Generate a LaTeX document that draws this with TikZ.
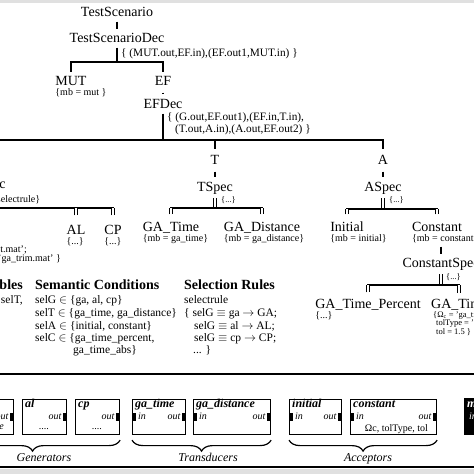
\documentclass[tikz,border=0pt]{standalone}
\usepackage{fontspec}
\setmainfont{Liberation Serif}
\usetikzlibrary{decorations.pathreplacing,calc}
\newcommand\myfs[1]{\fontsize{#1}{#1}\selectfont}
\newcommand\cbx[4]{%
  \node[cbox, minimum width={#3-#2}, minimum height=35, anchor=north west] (#1) at (#2,399) {};
  \node[btitle] (#1t) at ([xshift=3pt,yshift=-8.5pt]#1.north west) {#4};}
\newcommand\portout[1]{%
  \fill ([xshift=-0.5pt,yshift=-13.5pt]#1.north east) rectangle ([xshift=-4pt,yshift=-22pt]#1.north east);
  \node[port, anchor=base east] (#1o) at ([xshift=-5.5pt,yshift=-20pt]#1.north east) {out};}
\newcommand\portin[1]{%
  \fill ([xshift=0.5pt,yshift=-13.5pt]#1.north west) rectangle ([xshift=4pt,yshift=-22pt]#1.north west);
  \node[port, anchor=base west] (#1i) at ([xshift=6pt,yshift=-20pt]#1.north west) {in};}
\begin{document}
\begin{tikzpicture}[x=1pt,y=-1pt,
  nm/.style={font=\myfs{14}, inner sep=2.5pt, text height=10pt, text depth=3pt, anchor=base},
  mbl/.style={font=\myfs{10}, inner sep=0pt, anchor=base west},
  sml/.style={font=\myfs{8.5}, inner sep=0pt, anchor=base west},
  elab/.style={font=\myfs{11.3}, inner sep=0pt, anchor=base west},
  dotl/.style={font=\myfs{8.5}, inner sep=0pt, anchor=base west},
  conn/.style={line width=1.3pt},
  bar/.style={line width=1.3pt, line cap=rect},
  dbl/.style={double, double distance=1.6pt, line width=0.9pt},
  ttl/.style={font=\bfseries\myfs{14}, inner sep=0pt, anchor=base west},
  txt/.style={font=\myfs{11.5}, inner sep=0pt, anchor=base west},
  cbox/.style={draw, line width=1.1pt, inner sep=0pt},
  btitle/.style={font=\bfseries\itshape\myfs{12}, inner sep=0pt, anchor=base west},
  port/.style={font=\itshape\myfs{10}, inner sep=0pt},
  plain/.style={font=\myfs{10}, inner sep=0pt},
  brc/.style={decorate, decoration={brace, mirror, amplitude=11pt}, line width=1.2pt},
  brl/.style={font=\itshape\myfs{12}, inner sep=0pt, anchor=base}]
\useasboundingbox (0,0) rectangle (474,474);
\clip (0,0) rectangle (474,474);
\fill[white] (0,0) rectangle (474,474);
\fill[black!12] (0,0) rectangle (474,2.5);
\fill[black!12] (0,469) rectangle (474,474);

% ---------- tree ----------
\node[nm] (ts) at (117,16) {TestScenario};
\node[nm] (tsd) at (117,42) {TestScenarioDec};
\node[elab] (tsdl) at (121,56) {\{ (MUT.out,EF.in),(EF.out1,MUT.in) \}};
\node[nm] (mut) at (71,85) {MUT};
\node[mbl] (mutmb) at ([xshift=2.5pt,yshift=-10pt]mut.base west) {\{mb = mut \}};
\node[nm] (ef) at (163,85) {EF};
\node[nm] (efd) at (163,108) {EFDec};
\node[elab] (efdl1) at (167,120) {\{ (G.out,EF.out1),(EF.in,T.in),};
\node[elab] (efdl2) at (175,132) {(T.out,A.in),(A.out,EF.out2) \}};

\node[nm] (g) at (-13,164) {G};
\node[nm] (gsp) at (-13,188) {GSpec};
\node[mbl] (gspl) at (-8,202) {\{selectrule\}};
\node[nm] (t) at (215,164) {T};
\node[nm] (tsp) at (215,191) {TSpec};
\node[dotl] (tspl) at (221,202) {\{...\}};
\node[nm] (a) at (383,164) {A};
\node[nm] (asp) at (383,191) {ASpec};
\node[dotl] (aspl) at (389,202) {\{...\}};

\node[nm] (ga) at (-60,233) {GA};
\node[mbl, anchor=base east] (gal1) at (27,252) {file = 'ga\_test.mat';};
\node[mbl, anchor=base east] (gal2) at (61,261) {trim = 'ga\_trim.mat' \}};
\node[nm] (al) at (76,234) {AL};
\node[mbl] (almb) at ([xshift=2.5pt,yshift=-10.5pt]al.base west) {\{...\}};
\node[nm] (cp) at (113,234) {CP};
\node[mbl] (cpmb) at ([xshift=2.5pt,yshift=-10.5pt]cp.base west) {\{...\}};

\node[nm] (gtm) at (171,231) {GA\_Time};
\node[mbl] (gtmmb) at ([xshift=2.5pt,yshift=-10.5pt]gtm.base west) {\{mb = ga\_time\}};
\node[nm] (gdi) at (262,231) {GA\_Distance};
\node[mbl] (gdimb) at ([xshift=2.5pt,yshift=-10.5pt]gdi.base west) {\{mb = ga\_distance\}};

\node[nm] (ini) at (347,231) {Initial};
\node[mbl] (inimb) at ([xshift=2.5pt,yshift=-10.5pt]ini.base west) {\{mb = initial\}};
\node[nm] (cst) at (437,231) {Constant};
\node[mbl] (cstmb) at ([xshift=2.5pt,yshift=-10.5pt]cst.base west) {\{mb = constant\}};
\node[nm] (csp) at (441,267) {ConstantSpec};
\node[dotl] (cspl) at (446,279) {\{...\}};
\node[nm] (gtp) at (368,308) {GA\_Time\_Percent};
\node[mbl] (gtpmb) at ([xshift=2.5pt,yshift=-10.5pt]gtp.base west) {\{...\}};
\node[nm, anchor=base west] (gta) at (428.5,308) {GA\_Time\_Abs};
\node[sml] (gtal1) at (433,317) {\{Ω\textsubscript{c} = 'ga\_time\_abs';};
\node[sml] (gtal2) at (436,325.5) {tolType = 'abs';};
\node[sml] (gtal3) at (436,334) {tol = 1.5 \}};
\coordinate (gtatop) at (459,293);

% connectors
\draw[conn] (ts.south) -- (tsd.north);
\coordinate (b1) at (117,62);
\draw[conn] (tsd.south) -- (b1);
\draw[bar] (mut.north |- b1) -- (ef.north |- b1);
\draw[conn] (mut.north |- b1) -- (mut.north);
\draw[conn] (ef.north |- b1) -- (ef.north);
\draw[conn, shorten <=2pt, shorten >=1pt] (ef.south) -- (efd.north);

\coordinate (b2) at (163,140);
\draw[conn] (efd.south) -- (b2);
\draw[bar] (g.north |- b2) -- (a.north |- b2);
\draw[conn, shorten <=2.5pt] (g.north) -- (g.north |- b2);
\draw[conn, shorten <=2.5pt] (t.north) -- (t.north |- b2);
\draw[conn, shorten <=2.5pt] (a.north) -- (a.north |- b2);
\draw[conn, shorten <=2pt, shorten >=1.5pt] (g.south) -- (gsp.north);
\draw[conn, shorten <=2pt, shorten >=1.5pt] (t.south) -- (tsp.north);
\draw[conn, shorten <=2pt, shorten >=1.5pt] (a.south) -- (asp.north);

\coordinate (b3) at (-13,208);
\draw[dbl, shorten <=1.5pt] (gsp.south) -- (b3);
\draw[bar] (ga.north |- b3) -- (cp.north |- b3);
\draw[dbl, shorten <=6pt] (ga.north) -- (ga.north |- b3);
\draw[dbl, shorten <=6pt] (al.north) -- (al.north |- b3);
\draw[dbl, shorten <=6pt] (cp.north) -- (cp.north |- b3);

\coordinate (b4) at (215,208);
\draw[dbl, shorten <=1.5pt] (tsp.south) -- (b4);
\draw[bar] (gtm.north |- b4) -- (gdi.north |- b4);
\draw[dbl, shorten <=4pt] (gtm.north) -- (gtm.north |- b4);
\draw[dbl, shorten <=4pt] (gdi.north) -- (gdi.north |- b4);

\coordinate (b5) at (383,209);
\draw[dbl, shorten <=1.5pt] (asp.south) -- (b5);
\draw[bar] (ini.north |- b5) -- (cst.north |- b5);
\draw[dbl, shorten <=4pt] (ini.north) -- (ini.north |- b5);
\draw[dbl, shorten <=4pt] (cst.north) -- (cst.north |- b5);
\draw[conn, shorten <=3.5pt] (cstmb.south -| csp.north) -- (csp.north);

\coordinate (b6) at (441,285);
\draw[dbl, shorten <=1.5pt] (csp.south) -- (b6);
\draw[bar] (gtp.north |- b6) -- (gtatop |- b6);
\draw[dbl, shorten <=3pt] (gtp.north) -- (gtp.north |- b6);
\draw[dbl] (gtatop) -- (gtatop |- b6);

% ---------- variables / conditions / rules ----------
\node[ttl, anchor=base east] (vart) at (23,289) {Variables};
\node[txt, anchor=base east] (var1) at (23,303) {selG, selT,};
\node[ttl] (sct) at (35,289) {Semantic Conditions};
\node[txt] (sc1) at (35,303) {selG $\in$ \{ga, al, cp\}};
\node[txt] (sc2) at (35,316) {selT $\in$ \{ga\_time, ga\_distance\}};
\node[txt] (sc3) at (35,329) {selA $\in$ \{initial, constant\}};
\node[txt] (sc4) at (35,341) {selC $\in$ \{ga\_time\_percent,};
\node[txt] (sc5) at (73,353) {ga\_time\_abs\}};
\node[ttl] (srt) at (184,289) {Selection Rules};
\node[txt] (sr1) at (184,303) {selectrule};
\node[txt] (sr2) at (184,316) {\{ selG $\equiv$ ga $\rightarrow$ GA;};
\node[txt] (sr3) at (194,329) {selG $\equiv$ al $\rightarrow$ AL;};
\node[txt] (sr4) at (194,341) {selG $\equiv$ cp $\rightarrow$ CP;};
\node[txt] (sr5) at (193,353) {... \}};

% ---------- library of blocks ----------
\draw[line width=1.5pt] (-10,374) rectangle (484,467);
\cbx{gab}{-55}{13}{ga}
\portout{gab}
\node[port, anchor=base east] (gaf) at (4,429) {file};
\cbx{alb}{22}{66}{al}
\portout{alb}
\node[port, anchor=base] (ald) at (44,429) {....};
\cbx{cpb}{75}{119}{cp}
\portout{cpb}
\node[port, anchor=base] (cpd) at (97,429) {....};
\cbx{gtb}{132}{185}{ga\_time}
\portin{gtb}
\portout{gtb}
\cbx{gdb}{193}{270}{ga\_distance}
\portin{gdb}
\portout{gdb}
\cbx{inb}{289}{341}{initial}
\portin{inb}
\portout{inb}
\cbx{csb}{350}{436}{constant}
\portin{csb}
\portout{csb}
\node[plain, anchor=base east] (csbp) at (428,431) {Ωc, tolType, tol};
\node[fill=black, inner sep=0pt, minimum width=60, minimum height=37, anchor=north west] (mub) at (464,398) {};
\node[btitle, text=white] (mubt) at ([xshift=3pt,yshift=-9pt]mub.north west) {mut};
\node[port, text=white, anchor=base west] (mubi) at ([xshift=5pt,yshift=-21pt]mub.north west) {in};

\draw[brc] ([yshift=-5pt]gab.south west) -- ([yshift=-5pt]cpb.south east);
\draw[brc] ([yshift=-5pt]gtb.south west) -- ([yshift=-5pt]gdb.south east);
\draw[brc] ([yshift=-5pt]inb.south west) -- ([yshift=-5pt]csb.south east);
\node[brl] (genl) at (44,461) {Generators};
\node[brl] (trl) at (208,461) {Transducers};
\node[brl] (acl) at (368,461) {Acceptors};
\end{tikzpicture}
\end{document}
